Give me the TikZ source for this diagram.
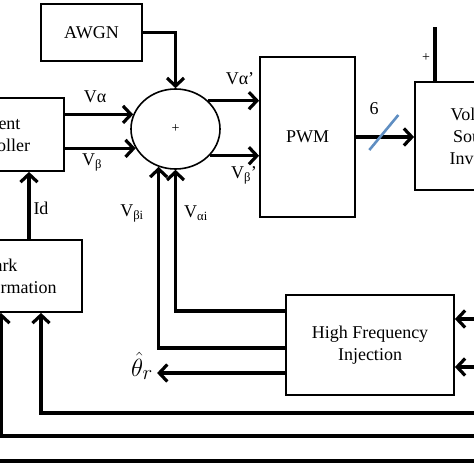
\documentclass[tikz,border=0pt]{standalone}
\usepackage{fontspec}
\setmainfont{Liberation Serif}
\usetikzlibrary{shapes.geometric,arrows.meta}
\definecolor{busblue}{RGB}{95,142,194}
\begin{document}
\begin{tikzpicture}[
x=1pt,y=-1pt,
font=\fontsize{18}{22}\selectfont,
>={Straight Barb[length=8pt,width=17pt]}
]

\tikzstyle{b} = [draw, shape=rectangle, line width=1.8pt, align=center, inner sep=0pt]
\tikzstyle{w} = [line width=3.2pt]
\tikzstyle{lb} = [inner sep=0pt]

\useasboundingbox (0,0) rectangle (474,474);
\clip (0,0) rectangle (474,474);

\node[b, minimum width=142pt, minimum height=73pt] (cc) at (-7,134.5) {Current\\Controller};
\node[b, minimum width=101pt, minimum height=57pt] (awgn) at (91.5,32.5) {AWGN};
\node[b, minimum width=162pt, minimum height=72pt] (park) at (1,276) {Park\\Transformation};
\node[draw, ellipse, line width=1.6pt, minimum width=89pt, minimum height=80pt, inner sep=0pt] (circ) at (175.5,129) {\fontsize{14}{14}\selectfont +};
\node[b, minimum width=95pt, minimum height=160pt] (pwm) at (307.5,137) {PWM};
\node[b, minimum width=126pt, minimum height=108pt] (vsi) at (478,136) {Voltage\\Source\\Inverter};
\node[b, minimum width=168pt, minimum height=100pt] (hfi) at (370,345) {High Frequency\\Injection};

\node[lb] (va) at (95,97) {Vα};
\node[lb] (vb) at (92,162) {V\textsubscript{β}};
\node[lb] (vap) at (240,79) {Vα’};
\node[lb] (vbp) at (244,175) {V\textsubscript{β}’};
\node[lb] (id) at (41,208) {Id};
\node[lb] (vbi) at (132,213) {V\textsubscript{βi}};
\node[lb] (vai) at (196,213) {V\textsubscript{αi}};
\node[lb] (six) at (374,109) {6};
\node[lb] (plus) at (426,58) {\fontsize{14}{14}\selectfont +};
\node[lb] (th) at (142,366) {\fontsize{29}{29}\selectfont$\hat{\theta}_r$};

\coordinate (dc) at (435,27);
\coordinate (ia) at (490,319);
\coordinate (ib) at (490,367);
\coordinate (fb1) at (490,413);
\coordinate (fb2) at (490,436);
\coordinate (fb3) at (490,461);

\draw[w,->] (awgn.east) -| (circ.north);
\draw[w,->] (circ.161 -| cc.east) -- (circ.161);
\draw[w,->] (circ.206 -| cc.east) -- (circ.206);
\draw[w,->] (circ.41) -- (circ.41 -| pwm.west);
\draw[w,->] (circ.-38) -- (circ.-38 -| pwm.west);
\draw[w,->] (pwm.east) -- coordinate[pos=0.42] (bus) (pwm.east -| vsi.west);
\draw[line width=2.6pt, busblue] (bus) +(-11,13) -- +(18,-22);
\draw[w] (dc) -- (dc |- vsi.north);
\draw[w,->] ([xshift=28pt]park.north) -- ([xshift=28pt]park.north |- cc.south);
\draw[w,->] ([yshift=34pt]hfi.west) -| (circ.south);
\draw[w,->] ([yshift=-3pt]hfi.west) -| (circ.246);
\draw[w,->] ([yshift=-28pt]hfi.west) -- ([yshift=-28pt,xshift=-128pt]hfi.west);
\draw[w,->] (ia) -- (ia -| hfi.east);
\draw[w,->] (ib) -- (ib -| hfi.east);
\draw[w,->] (fb1) -| ([xshift=40pt]park.south);
\draw[w,->] (fb2) -| (park.south);
\draw[w] (fb3) -- (fb3 -| cc.west);
\end{tikzpicture}
\end{document}
